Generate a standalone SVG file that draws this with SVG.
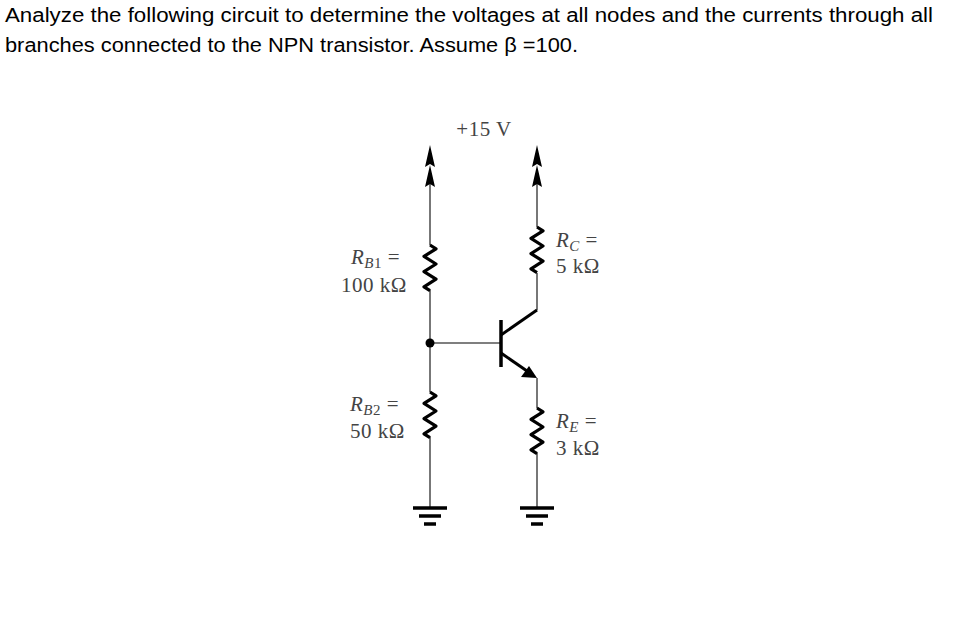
<svg xmlns="http://www.w3.org/2000/svg" width="966" height="628" viewBox="0 0 966 628">
<style>
.h{font-family:"Liberation Sans","Open Sans",sans-serif;font-size:20px;fill:#000}
.w{stroke:#555;stroke-width:1.6;fill:none}
.r{stroke:#000;stroke-width:3.2;fill:none;stroke-linejoin:round}
.g{stroke:#000;stroke-width:3.5}
.l{font-family:"Liberation Serif",serif;font-size:21px;fill:#444;letter-spacing:0.5px}
.s{font-size:15px}
</style>
<defs>
<path id="zz" d="M0,0 l6,3.8 l-12,7.6 l12,7.6 l-12,7.6 l12,7.6 l-12,7.6 l6,3.8" class="r"/>
<g id="ar"><path d="M0,0 l-5,22 l5,-3 l5,3z M0,20 l-5,22 l5,-3 l5,3z" fill="#000"/></g>
<g id="gnd"><line x1="-17" y1="0" x2="17" y2="0" class="g"/><line x1="-11" y1="8" x2="11" y2="8" class="g"/><line x1="-6" y1="16" x2="6" y2="16" class="g"/></g>
</defs>
<rect width="966" height="628" fill="#fff"/>
<text class="h" x="5" y="22" textLength="928" lengthAdjust="spacingAndGlyphs">Analyze the following circuit to determine the voltages at all nodes and the currents through all</text>
<text class="h" x="5" y="52" textLength="573" lengthAdjust="spacingAndGlyphs">branches connected to the NPN transistor. Assume β =100.</text>
<g id="connectors">
<line class="w" x1="430" y1="170" x2="430" y2="245"/>
<line class="w" x1="430" y1="290" x2="430" y2="392"/>
<line class="w" x1="430" y1="437" x2="430" y2="508"/>
<line class="w" x1="430" y1="343" x2="500" y2="343"/>
<line class="w" x1="537" y1="170" x2="537" y2="227"/>
<line class="w" x1="537" y1="273" x2="537" y2="310"/>
<line class="w" x1="537" y1="378" x2="537" y2="408"/>
<line class="w" x1="537" y1="453" x2="537" y2="508"/>
<circle cx="430" cy="343" r="4.5" fill="#000"/>
</g>
<g id="vcc"><use href="#ar" x="430" y="145"/><use href="#ar" x="537" y="145"/><text class="l" x="484" y="136" text-anchor="middle">+15 V</text></g>
<g id="RB1"><use href="#zz" x="430" y="245"/><text class="l" x="351" y="264"><tspan font-style="italic">R</tspan><tspan class="s" dy="4" font-style="italic">B</tspan><tspan class="s">1</tspan><tspan dy="-4">  =</tspan></text><text class="l" x="341" y="292">100 kΩ</text></g>
<g id="RC"><use href="#zz" x="537" y="227"/><text class="l" x="556" y="247"><tspan font-style="italic">R</tspan><tspan class="s" dy="4" font-style="italic">C</tspan><tspan dy="-4">  =</tspan></text><text class="l" x="556" y="273">5 kΩ</text></g>
<g id="RB2"><use href="#zz" x="430" y="392"/><text class="l" x="350" y="411"><tspan font-style="italic">R</tspan><tspan class="s" dy="4" font-style="italic">B</tspan><tspan class="s">2</tspan><tspan dy="-4">  =</tspan></text><text class="l" x="350" y="438">50 kΩ</text></g>
<g id="RE"><use href="#zz" x="537" y="408"/><text class="l" x="556" y="428"><tspan font-style="italic">R</tspan><tspan class="s" dy="4" font-style="italic">E</tspan><tspan dy="-4">  =</tspan></text><text class="l" x="556" y="455">3 kΩ</text></g>
<g id="Q1">
<line x1="501" y1="320" x2="501" y2="367" stroke="#000" stroke-width="3.5"/>
<line x1="501" y1="335" x2="537" y2="310" stroke="#000" stroke-width="3"/>
<line x1="501" y1="353" x2="527" y2="371" stroke="#000" stroke-width="3"/>
<path d="M537,378 l-16,-1 l8,-11z" fill="#000"/>
</g>
<g id="gnd1"><use href="#gnd" x="430" y="508"/></g>
<g id="gnd2"><use href="#gnd" x="537" y="508"/></g>
</svg>
